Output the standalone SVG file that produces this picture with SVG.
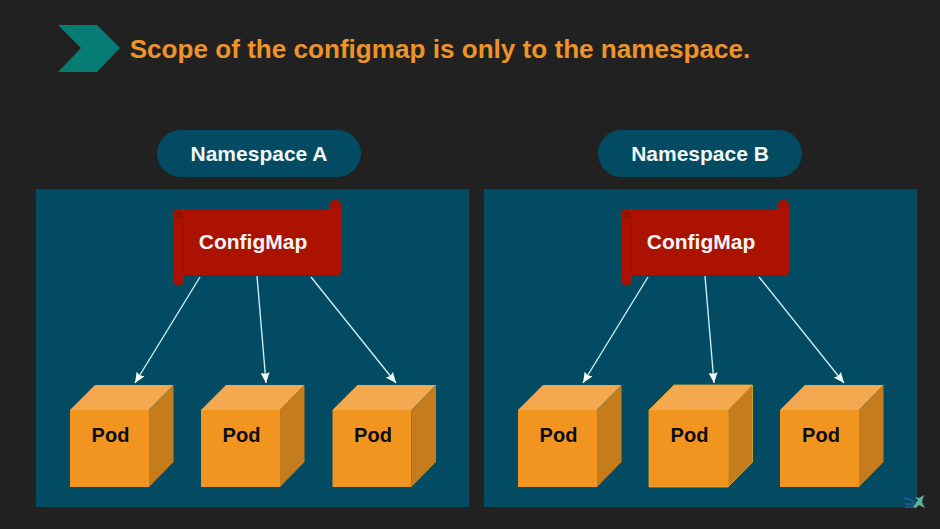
<svg xmlns="http://www.w3.org/2000/svg" width="940" height="529" viewBox="0 0 940 529">
<defs>
<marker id="ah" markerUnits="userSpaceOnUse" markerWidth="12" markerHeight="10" refX="10.500" refY="5" orient="auto"><path d="M0 0.500L10.500 5L0 9.500L1.500 5Z" fill="#f4fbfc"/></marker>
<g id="cube">
<path class="front" d="M0 25H79V102H0Z"/>
<path class="top" d="M0 25L25 0H103.500L79 25Z"/>
<path class="side" d="M79 25L103.500 0V77L79 102Z"/>
</g>
<g id="scroll">
<path class="red" d="M0 5Q0 0 5 0H157V-4A5.500 5.500 0 0 1 168 -4V62Q168 66 164 66H11V71Q11 76 5.500 76Q0 76 0 71Z"/>
<path d="M10.500 6V66" stroke="#9a1000" stroke-width="1" fill="none"/>
<circle cx="6" cy="6" r="4" fill="#961000"/>
<circle cx="162" cy="-5" r="4" fill="#9c1100"/>
</g>
</defs>
<style>
text{font-family:"Liberation Sans",Arial,sans-serif;font-weight:700;text-anchor:middle}
.front{fill:#f29420}.top{fill:#f4a950}.side{fill:#c57c1c}
.red{fill:#ab1200}
.panel{fill:#024b62}.pill{fill:#024b62}
.label{fill:#f2f6f7;font-size:21px}
.pod{fill:#0c0c0c;font-size:20px}
.conn{stroke:#c9edf3;stroke-width:1.400;fill:none;marker-end:url(#ah)}
</style>
<rect width="940" height="529" fill="#212121"/>
<g id="title">
<path d="M58 25H97L120 48L97 72H58L81 48Z" fill="#067c74"/>
<text x="440" y="58" font-size="26.100" fill="#ed9327">Scope of the configmap is only to the namespace.</text>
</g>
<g id="namespace-a">
<rect class="panel" x="36" y="189" width="433" height="318"/>
<rect class="pill" x="157" y="130" width="204" height="47" rx="23.500"/>
<text class="label" x="259" y="161">Namespace A</text>
</g>
<g id="namespace-b">
<rect class="panel" x="484" y="189" width="433" height="318"/>
<rect class="pill" x="598" y="130" width="204" height="47" rx="23.500"/>
<text class="label" x="700" y="161">Namespace B</text>
</g>
<g id="connectors">
<path class="conn" d="M200 277L135 383"/>
<path class="conn" d="M257 276L266 383"/>
<path class="conn" d="M311 277L396 383"/>
<path class="conn" d="M648 277L583 383"/>
<path class="conn" d="M705 276L714 383"/>
<path class="conn" d="M759 277L844 383"/>
</g>
<g id="configmap-a"><use href="#scroll" x="173" y="209"/><text class="label" x="253" y="249">ConfigMap</text></g>
<g id="configmap-b"><use href="#scroll" x="621" y="209"/><text class="label" x="701" y="249">ConfigMap</text></g>
<g id="pod-a1"><use href="#cube" x="70" y="385"/><text class="pod" x="110.500" y="442">Pod</text></g>
<g id="pod-a2"><use href="#cube" x="201" y="385"/><text class="pod" x="241.500" y="442">Pod</text></g>
<g id="pod-a3"><use href="#cube" x="332.500" y="385"/><text class="pod" x="373" y="442">Pod</text></g>
<g id="pod-b1"><use href="#cube" x="518" y="385"/><text class="pod" x="558.500" y="442">Pod</text></g>
<g id="pod-b2"><use href="#cube" x="649" y="385"/><path d="M649 410H728V487H649ZM649 410L674 385H752.500V462L728 487M728 410L752.500 385" fill="none" stroke="#e8ae1c" stroke-width="0.800"/><text class="pod" x="689.500" y="442">Pod</text></g>
<g id="pod-b3"><use href="#cube" x="780" y="385"/><text class="pod" x="821" y="442">Pod</text></g>
<g id="watermark">
<path d="M904 498L911 500Q915 502 913 504H905M905 507H915" fill="none" stroke="#2c5a90" stroke-width="1.500"/>
<path d="M913 507L918 500L915 497L919 498L924 495L922 502L925 508L919 505L916 508Z" fill="#5fae98"/>
</g>
</svg>
